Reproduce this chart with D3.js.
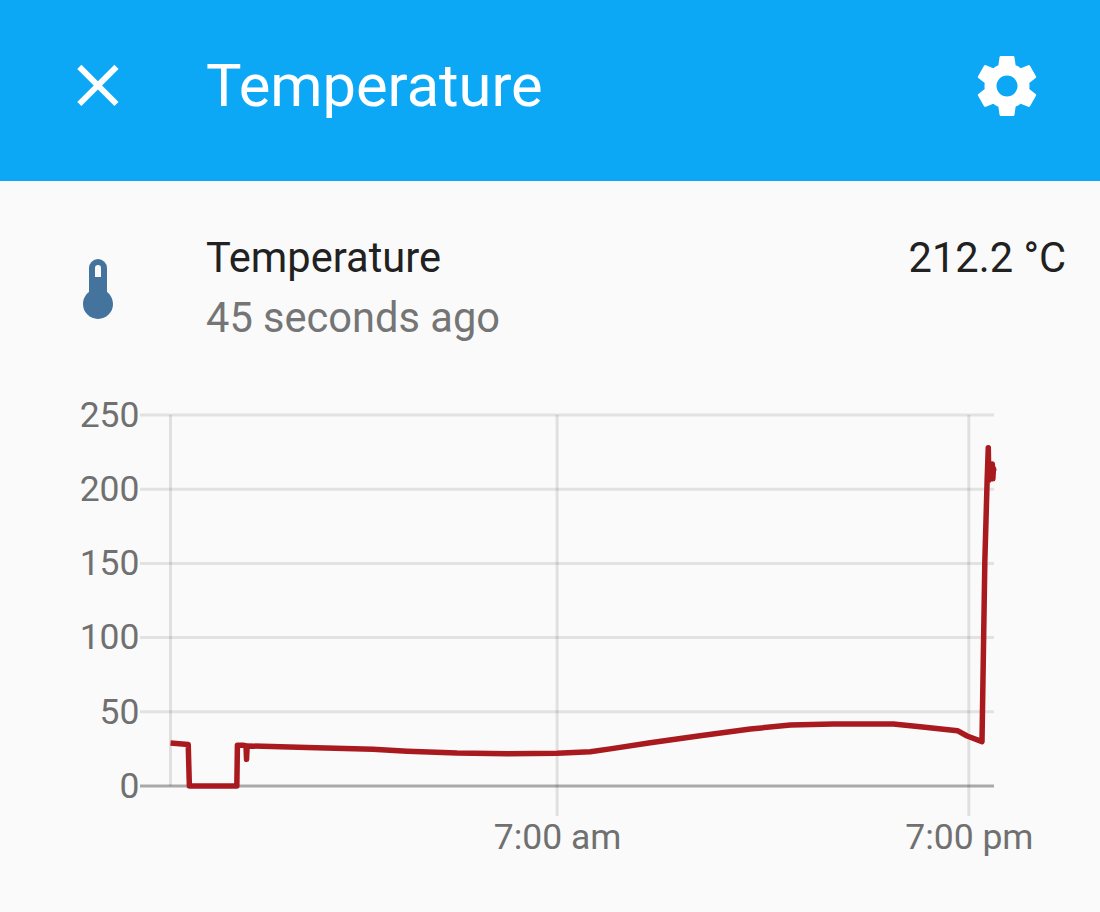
<!DOCTYPE html>
<html>
<head>
<meta charset="utf-8">
<style>
  html, body { margin: 0; padding: 0; background: #fafafa; }
  svg { display: block; font-family: Roboto, sans-serif; }
</style>
<script src="https://cdn.jsdelivr.net/npm/d3@7"></script>
</head>
<body>
<svg id="vis" width="1100" height="912"></svg>
<script>
var times = ['0 19:44', '0 20:15', '0 20:17', '0 21:40', '0 21:41', '0 21:51', '0 21:56', '0 21:57', '0 21:58',
  '0 23:43', '1 01:38', '1 02:38', '1 04:05', '1 05:33', '1 07:00', '1 07:58', '1 08:33', '1 09:43',
  '1 11:10', '1 12:38', '1 13:48', '1 15:03', '1 16:48', '1 17:35', '1 18:40', '1 18:57', '1 19:23',
  '1 19:28', '1 19:32', '1 19:34', '1 19:35', '1 19:37', '1 19:39', '1 19:41', '1 19:42', '1 19:43', '1 19:44'];
var temps = [29, 28, 0, 0, 27.5, 27.5, 27, 18, 27,
  26, 24.7, 23.4, 22.2, 21.8, 22, 23.1, 25, 29.2,
  33.9, 38.4, 41.1, 41.8, 41.8, 40, 37.3, 33.7, 29.9,
  152, 206, 228, 206, 216, 207, 217, 207, 214, 212.2];
var yTicks = [0, 50, 100, 150, 200, 250];
var xTicks = ['1 07:00', '1 19:00'];
var xTickLabels = ['7:00 am', '7:00 pm'];

var toDate = function(s) {
  var p = s.split(/[ :]/);
  return new Date(2017, 0, 1 + (+p[0]), +p[1], +p[2]);
};

var svg = d3.select('#vis');

// header bar
svg.append('rect').attr('width', 1100).attr('height', 181).attr('fill', '#0ca8f6');
svg.append('path').attr('fill', '#fff').attr('transform', 'translate(62.5 50) scale(2.95)')
  .attr('d', 'M19 6.41L17.59 5 12 10.59 6.41 5 5 6.41 10.59 12 5 17.59 6.41 19 12 13.41 17.59 19 19 17.59 13.41 12z');
svg.append('text').attr('x', 206).attr('y', 106).attr('fill', '#fff').attr('font-size', 59.6).text('Temperature');
svg.append('path').attr('fill', '#fff').attr('transform', 'translate(971 50) scale(3)')
  .attr('d', 'M19.43 12.98c.04-.32.07-.64.07-.98s-.03-.66-.07-.98l2.11-1.65c.19-.15.24-.42.12-.64l-2-3.46c-.12-.22-.39-.3-.61-.22l-2.49 1c-.52-.4-1.08-.73-1.69-.98l-.38-2.65C14.46 2.18 14.25 2 14 2h-4c-.25 0-.46.18-.49.42l-.38 2.65c-.61.25-1.17.59-1.69.98l-2.49-1c-.23-.09-.49 0-.61.22l-2 3.46c-.13.22-.07.49.12.64l2.11 1.65c-.04.32-.07.65-.07.98s.03.66.07.98l-2.11 1.65c-.19.15-.24.42-.12.64l2 3.46c.12.22.39.3.61.22l2.49-1c.52.4 1.08.73 1.69.98l.38 2.65c.03.24.24.42.49.42h4c.25 0 .46-.18.49-.42l.38-2.65c.61-.25 1.17-.59 1.69-.98l2.49 1c.23.09.49 0 .61-.22l2-3.46c.12-.22.07-.49-.12-.64l-2.11-1.65zM12 15.5c-1.93 0-3.5-1.57-3.5-3.5s1.57-3.5 3.5-3.5 3.5 1.57 3.5 3.5-1.57 3.5-3.5 3.5z');

// entity row
svg.append('path').attr('fill', '#44739e').attr('fill-rule', 'evenodd').attr('transform', 'translate(62 253) scale(3)')
  .attr('d', 'M17 17A5 5 0 0 1 12 22A5 5 0 0 1 7 17C7 15.36 7.79 13.91 9 13V5A3 3 0 0 1 12 2A3 3 0 0 1 15 5V13C16.21 13.91 17 15.36 17 17M11 8V5A1 1 0 0 1 12 4A1 1 0 0 1 13 5V8H11Z');
svg.append('text').attr('x', 206).attr('y', 271.5).attr('fill', '#212121').attr('font-size', 41.6).text('Temperature');
svg.append('text').attr('x', 206).attr('y', 331.5).attr('fill', '#757575').attr('font-size', 41.6).text('45 seconds ago');
svg.append('text').attr('x', 1066).attr('y', 271.5).attr('fill', '#212121').attr('font-size', 41.6)
  .attr('text-anchor', 'end').text('212.2 °C');

// chart
var x = d3.scaleTime().domain([toDate(times[0]), toDate(times[times.length - 1])]).range([170.5, 994]);
var y = d3.scaleLinear().domain([0, 250]).range([786, 415]);

var yAxis = svg.append('g').attr('transform', 'translate(170.5 0)')
  .call(d3.axisLeft(y).tickValues(yTicks).tickSize(30).tickPadding(1));
var xAxis = svg.append('g').attr('transform', 'translate(0 786)')
  .call(d3.axisBottom(x).tickValues(xTicks.map(toDate)).tickSize(30).tickPadding(8)
    .tickFormat(function(d, i) { return xTickLabels[i]; }));

// full-length grid lines behind the curve
svg.append('g').selectAll('line').data(yTicks).enter().append('line')
  .attr('x1', 140).attr('x2', 994)
  .attr('y1', function(d) { return y(d); }).attr('y2', function(d) { return y(d); })
  .attr('stroke', function(d) { return d === 0 ? '#a9a9a9' : '#e2e2e2'; })
  .attr('stroke-width', 3);
svg.append('g').selectAll('line').data([times[0]].concat(xTicks)).enter().append('line')
  .attr('x1', function(d) { return x(toDate(d)); }).attr('x2', function(d) { return x(toDate(d)); })
  .attr('y1', 415).attr('y2', function(d, i) { return i === 0 ? 786 : 816; })
  .attr('stroke', '#000').attr('stroke-opacity', 0.1).attr('stroke-width', 3);

yAxis.selectAll('.domain, line').remove();
xAxis.selectAll('.domain, line').remove();
yAxis.selectAll('text').attr('font-family', 'Roboto').attr('font-size', 35.5).attr('fill', '#707070');
xAxis.selectAll('text').attr('font-family', 'Roboto').attr('font-size', 35.5).attr('fill', '#707070');

var line = d3.line()
  .x(function(d) { return x(toDate(d[0])); })
  .y(function(d) { return y(d[1]); });
svg.append('path').datum(d3.zip(times, temps))
  .attr('fill', 'none').attr('stroke', '#a91a1f').attr('stroke-width', 5.5)
  .attr('stroke-linejoin', 'round').attr('d', line);
</script>
</body>
</html>
